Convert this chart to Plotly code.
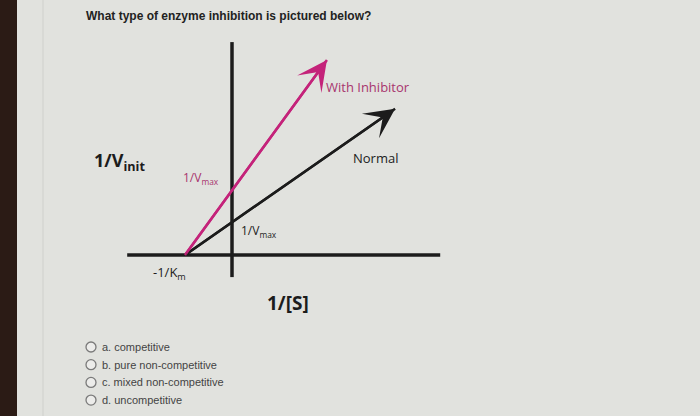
import plotly.graph_objects as go

# Lineweaver-Burk sketch: units where -1/Km = -1
neg_inv_km = -1.0
normal_x = [-1.0, 3.47]
normal_y = [0.0, 3.11]
inhib_x = [-1.0, 2.02]
inhib_y = [0.0, 4.15]
xaxis_line_x = [-2.23, 4.43]
xaxis_line_y = [0.0, 0.0]
yaxis_line_x = [0.0, 0.0]
yaxis_line_y = [-0.47, 4.53]

options = ["a. competitive", "b. pure non-competitive",
           "c. mixed non-competitive", "d. uncompetitive"]

pink = "#c4237a"
pink_text = "#a8356e"
ink = "#1c1c1c"
bg = "#e1e2de"

W, H = 700, 416


def px(x):
    return x / W


def py(y):
    return 1 - y / H


fig = go.Figure()

# axes drawn as plain lines
fig.add_trace(go.Scatter(x=xaxis_line_x, y=xaxis_line_y, mode="lines",
                         line=dict(color=ink, width=3.5), hoverinfo="skip"))
fig.add_trace(go.Scatter(x=yaxis_line_x, y=yaxis_line_y, mode="lines",
                         line=dict(color=ink, width=3.5), hoverinfo="skip"))

# the two lines
fig.add_trace(go.Scatter(x=normal_x, y=normal_y, mode="lines",
                         line=dict(color=ink, width=2.5), hoverinfo="skip"))
fig.add_trace(go.Scatter(x=inhib_x, y=inhib_y, mode="lines",
                         line=dict(color=pink, width=2.5), hoverinfo="skip"))

# arrowheads on the line ends
for xs, ys, col in [(normal_x, normal_y, ink), (inhib_x, inhib_y, pink)]:
    fig.add_annotation(
        x=xs[-1], y=ys[-1], ax=xs[0], ay=ys[0],
        xref="x", yref="y", axref="x", ayref="y",
        text="", showarrow=True, arrowhead=3, arrowsize=2.0,
        arrowwidth=2.5, arrowcolor=col, standoff=0,
    )

# left edge of the photographed screen
fig.add_shape(type="rect", xref="paper", yref="paper",
              x0=0, x1=px(17), y0=0, y1=1,
              fillcolor="#2b1b15", line=dict(width=0), layer="below")
fig.add_shape(type="line", xref="paper", yref="paper",
              x0=px(43), x1=px(43), y0=0, y1=1,
              line=dict(color="#cfd0cc", width=1), layer="below")


def label(x, y, text, size, color=ink, family="Open Sans, sans-serif", anchor="left"):
    fig.add_annotation(x=px(x), y=py(y), xref="paper", yref="paper",
                       text=text, showarrow=False, xanchor=anchor, yanchor="middle",
                       font=dict(size=size, color=color, family=family))


label(84, 16, "<b>What type of enzyme inhibition is pictured below?</b>", 12,
      color="#222222", family="Liberation Sans, Arial, sans-serif")

label(92, 162, "<b>1/V<sub>init</sub></b>", 18)
label(181, 178, "1/V<sub>max</sub>", 12, color=pink_text)
label(239, 231, "1/V<sub>max</sub>", 12)
label(151, 273, "-1/K<sub>m</sub>", 13)
label(265, 303, "<b>1/[S]</b>", 19)
label(324, 87, "With Inhibitor", 13, color=pink_text)
label(351, 158, "Normal", 13)

# answer choices with radio circles
for i, opt in enumerate(options):
    yy = 347 + i * 17.7
    fig.add_shape(type="circle", xref="paper", yref="paper",
                  x0=px(86), x1=px(96), y0=py(yy + 5), y1=py(yy - 5),
                  line=dict(color="#7a7a7a", width=1.3), fillcolor="#ececea")
    label(100, yy, opt, 11, color="#444444", family="Liberation Sans, Arial, sans-serif")

fig.update_layout(
    width=W, height=H,
    margin=dict(l=0, r=0, t=0, b=0),
    paper_bgcolor=bg, plot_bgcolor=bg,
    showlegend=False,
    xaxis=dict(range=[(0 - 232) / 47, (700 - 232) / 47], visible=False),
    yaxis=dict(range=[(255 - 416) / 47, 255 / 47], visible=False),
)

fig.write_html("out.html", config={"displayModeBar": False},
               post_script="document.body.style.margin='0';")
